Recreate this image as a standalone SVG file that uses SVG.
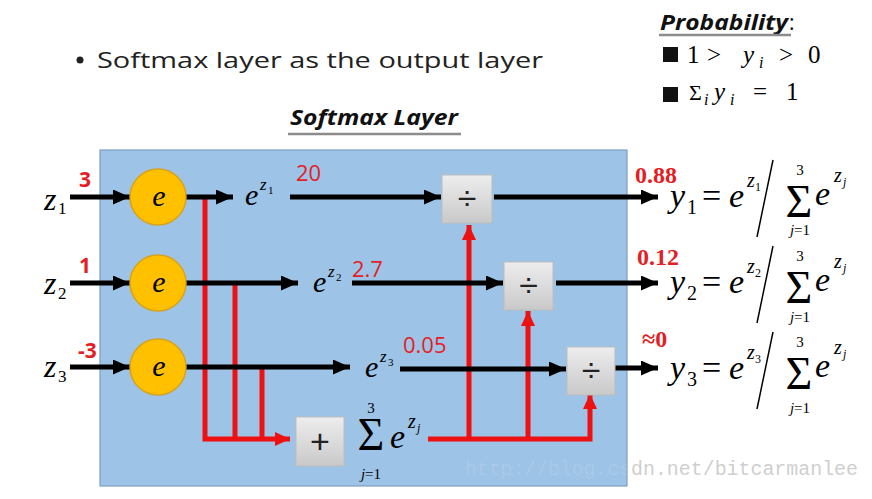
<svg xmlns="http://www.w3.org/2000/svg" width="872" height="499" viewBox="0 0 872 499">
<defs>
<linearGradient id="gbox" x1="0" y1="0" x2="0" y2="1">
<stop offset="0" stop-color="#EDEDED"/><stop offset="1" stop-color="#C9C9C9"/>
</linearGradient>
<marker id="ab" markerUnits="userSpaceOnUse" markerWidth="18" markerHeight="16" refX="17" refY="7.5" orient="auto"><path d="M0,0 L17,7.5 L0,15 z" fill="#000"/></marker>
<marker id="ar" markerUnits="userSpaceOnUse" markerWidth="16" markerHeight="15" refX="15" refY="7" orient="auto"><path d="M0,0 L15,7 L0,14 z" fill="#EE1111"/></marker>
<style>
.m{font-family:'Liberation Serif','Times New Roman',serif;fill:#000}
.i{font-style:italic}
.s{font-family:'Open Sans','Liberation Sans',sans-serif}
.red{fill:#E31E24}
.blk{stroke:#000;stroke-width:5;fill:none}
.rl{stroke:#EE1111;stroke-width:5;fill:none}
.gb{fill:url(#gbox);stroke:#BDBDBD;stroke-width:1}
.circ{fill:#FFC000;stroke:#D9A21C;stroke-width:1.5}
.op{font-family:'Liberation Sans',Arial,sans-serif;fill:#222;text-anchor:middle}
.c{text-anchor:middle}
</style>
</defs>
<rect width="872" height="499" fill="#fff"/>

<!-- headings -->
<g id="title">
<circle cx="80" cy="60" r="3.5" fill="#222"/>
<text class="s" x="97" y="68" font-size="22" textLength="446" lengthAdjust="spacingAndGlyphs" fill="#222">Softmax layer as the output layer</text>
</g>
<g id="layer-title">
<text class="s" x="290" y="125" font-size="21" font-weight="bold" font-style="italic" textLength="168" lengthAdjust="spacingAndGlyphs" fill="#111">Softmax Layer</text>
<line x1="288" y1="134" x2="461" y2="134" stroke="#8C8C8C" stroke-width="2.5"/>
</g>
<g id="probability">
<text class="s" x="660" y="30" font-size="21" font-weight="bold" font-style="italic" textLength="128" lengthAdjust="spacingAndGlyphs" fill="#111">Probability</text>
<text class="s" x="789" y="30" font-size="21" fill="#111">:</text>
<line x1="659" y1="35" x2="791" y2="35" stroke="#8C8C8C" stroke-width="2.5"/>
<rect x="663" y="47" width="15" height="15" fill="#111"/>
<rect x="663" y="87" width="15" height="15" fill="#111"/>
<text class="m" x="687" y="63" font-size="25">1</text>
<text class="m" x="707" y="63" font-size="25">&gt;</text>
<text class="m i" x="743" y="63" font-size="25">y</text>
<text class="m i" x="759" y="68" font-size="16">i</text>
<text class="m" x="779" y="63" font-size="25">&gt;</text>
<text class="m" x="808" y="63" font-size="25">0</text>
<text class="m" x="689" y="100" font-size="22">Σ</text>
<text class="m i" x="704" y="105" font-size="16">i</text>
<text class="m i" x="714" y="100" font-size="25">y</text>
<text class="m i" x="730" y="105" font-size="16">i</text>
<text class="m" x="753" y="100" font-size="25">=</text>
<text class="m" x="786" y="100" font-size="25">1</text>
</g>

<!-- softmax layer box -->
<rect id="layer-box" x="100" y="150" width="527" height="336" fill="#9DC3E6" stroke="#7E9DBE" stroke-width="1.2"/>

<!-- watermark -->
<g id="watermark" font-family="Liberation Mono,monospace" font-size="20">
<text x="465" y="475" textLength="166" lengthAdjust="spacingAndGlyphs" fill="#FFFFFF" fill-opacity="0.12">http://blog.cs</text>
<text x="631" y="475" textLength="227" lengthAdjust="spacingAndGlyphs" fill="#CFCFCF">dn.net/bitcarmanlee</text>
</g>

<!-- connectors -->
<g id="connectors">
<path class="rl" d="M205,199 V439 H290" marker-end="url(#ar)"/>
<path class="rl" d="M235,285 V439"/>
<path class="rl" d="M262,369 V439"/>
<path class="rl" d="M428,439 H590 V394" marker-end="url(#ar)"/>
<path class="rl" d="M469,439 V225" marker-end="url(#ar)"/>
<path class="rl" d="M528,439 V311" marker-end="url(#ar)"/>
<path class="blk" d="M70,197 H130" marker-end="url(#ab)"/>
<path class="blk" d="M70,283 H130" marker-end="url(#ab)"/>
<path class="blk" d="M70,367 H130" marker-end="url(#ab)"/>
<path class="blk" d="M186,197 H233" marker-end="url(#ab)"/>
<path class="blk" d="M186,283 H298" marker-end="url(#ab)"/>
<path class="blk" d="M186,367 H350" marker-end="url(#ab)"/>
<path class="blk" d="M290,197 H441" marker-end="url(#ab)"/>
<path class="blk" d="M352,283 H503" marker-end="url(#ab)"/>
<path class="blk" d="M400,369 H566" marker-end="url(#ab)"/>
<path class="blk" d="M494,197 H658" marker-end="url(#ab)"/>
<path class="blk" d="M556,283 H658" marker-end="url(#ab)"/>
<path class="blk" d="M615,368 H658" marker-end="url(#ab)"/>
</g>

<!-- inputs -->
<g id="z1"><text class="m i" x="44" y="210" font-size="32">z</text><text class="m" x="58" y="214" font-size="17">1</text><text class="s red" x="79" y="187" font-size="21" font-weight="bold">3</text></g>
<g id="z2"><text class="m i" x="44" y="294" font-size="32">z</text><text class="m" x="58" y="299" font-size="17">2</text><text class="s red" x="79" y="273" font-size="21" font-weight="bold">1</text></g>
<g id="z3"><text class="m i" x="44" y="377" font-size="32">z</text><text class="m" x="58" y="382" font-size="17">3</text><text class="s red" x="78" y="358" font-size="21" font-weight="bold">-3</text></g>

<!-- exp nodes -->
<g id="exp1"><circle class="circ" cx="158" cy="197" r="28"/><text class="m i c" x="159" y="206" font-size="30">e</text></g>
<g id="exp2"><circle class="circ" cx="158" cy="283" r="28"/><text class="m i c" x="159" y="292" font-size="30">e</text></g>
<g id="exp3"><circle class="circ" cx="158" cy="367" r="28"/><text class="m i c" x="159" y="376" font-size="30">e</text></g>

<!-- exponentials -->
<g id="ez1"><text class="m i" x="245" y="205" font-size="30" fill="#1F2F4F">e</text><text class="m i" x="260" y="190" font-size="17">z</text><text class="m" x="268" y="194" font-size="11">1</text><text class="s red" x="296" y="181" font-size="22">20</text></g>
<g id="ez2"><text class="m i" x="313" y="292" font-size="30">e</text><text class="m i" x="328" y="277" font-size="17">z</text><text class="m" x="336" y="281" font-size="11">2</text><text class="s red" x="352" y="277" font-size="22">2.7</text></g>
<g id="ez3"><text class="m i" x="365" y="377" font-size="30">e</text><text class="m i" x="380" y="362" font-size="17">z</text><text class="m" x="388" y="366" font-size="11">3</text><text class="s red" x="403" y="353" font-size="22">0.05</text></g>

<!-- divide nodes -->
<g id="div1"><rect class="gb" x="442" y="175" width="50" height="48"/><text class="op" x="467" y="210" font-size="34">÷</text></g>
<g id="div2"><rect class="gb" x="504" y="262" width="49" height="48"/><text class="op" x="528.5" y="297" font-size="34">÷</text></g>
<g id="div3"><rect class="gb" x="567" y="347" width="48" height="48"/><text class="op" x="591" y="382" font-size="34">÷</text></g>

<!-- sum node -->
<g id="sum"><rect class="gb" x="296" y="417" width="48" height="49"/><text class="op" x="320" y="453" font-size="34">+</text>
<text class="m c" x="371" y="450" font-size="46">Σ</text><text class="m c" x="371" y="413" font-size="15">3</text>
<text class="m c" x="371" y="479" font-size="15"><tspan font-style="italic">j</tspan>=1</text>
<text class="m i" x="390" y="448" font-size="34">e</text><text class="m i" x="408" y="428" font-size="20">z</text><text class="m i" x="417" y="432" font-size="12">j</text></g>

<!-- outputs -->
<g id="y1">
<text class="m red" x="635" y="183" font-size="24" font-weight="bold">0.88</text>
<text class="m i" x="670" y="207" font-size="34">y</text><text class="m" x="687" y="214" font-size="20">1</text>
<text class="m" x="702" y="207" font-size="34">=</text>
<text class="m i" x="729" y="207" font-size="34">e</text><text class="m i" x="747" y="187" font-size="20">z</text><text class="m" x="755" y="191" font-size="12">1</text>
<line x1="757" y1="237" x2="773" y2="160" stroke="#000" stroke-width="1.5"/>
<text class="m c" x="799" y="217" font-size="46">Σ</text><text class="m c" x="800" y="175" font-size="15">3</text>
<text class="m c" x="800" y="235" font-size="15"><tspan font-style="italic">j</tspan>=1</text>
<text class="m i" x="815" y="205" font-size="34">e</text><text class="m i" x="834" y="182" font-size="20">z</text><text class="m i" x="843" y="186" font-size="12">j</text>
</g>
<g id="y2">
<text class="m red" x="637" y="265" font-size="24" font-weight="bold">0.12</text>
<text class="m i" x="670" y="293" font-size="34">y</text><text class="m" x="687" y="300" font-size="20">2</text>
<text class="m" x="702" y="293" font-size="34">=</text>
<text class="m i" x="729" y="293" font-size="34">e</text><text class="m i" x="747" y="273" font-size="20">z</text><text class="m" x="755" y="277" font-size="12">2</text>
<line x1="757" y1="323" x2="773" y2="246" stroke="#000" stroke-width="1.5"/>
<text class="m c" x="799" y="303" font-size="46">Σ</text><text class="m c" x="800" y="261" font-size="15">3</text>
<text class="m c" x="800" y="322" font-size="15"><tspan font-style="italic">j</tspan>=1</text>
<text class="m i" x="815" y="291" font-size="34">e</text><text class="m i" x="834" y="268" font-size="20">z</text><text class="m i" x="843" y="272" font-size="12">j</text>
</g>
<g id="y3">
<text class="m red" x="642" y="347" font-size="24" font-weight="bold">≈0</text>
<text class="m i" x="670" y="379" font-size="34">y</text><text class="m" x="687" y="386" font-size="20">3</text>
<text class="m" x="702" y="379" font-size="34">=</text>
<text class="m i" x="729" y="379" font-size="34">e</text><text class="m i" x="747" y="359" font-size="20">z</text><text class="m" x="755" y="363" font-size="12">3</text>
<line x1="757" y1="409" x2="773" y2="332" stroke="#000" stroke-width="1.5"/>
<text class="m c" x="799" y="389" font-size="46">Σ</text><text class="m c" x="800" y="347" font-size="15">3</text>
<text class="m c" x="800" y="413" font-size="15"><tspan font-style="italic">j</tspan>=1</text>
<text class="m i" x="815" y="377" font-size="34">e</text><text class="m i" x="834" y="354" font-size="20">z</text><text class="m i" x="843" y="358" font-size="12">j</text>
</g>
</svg>
